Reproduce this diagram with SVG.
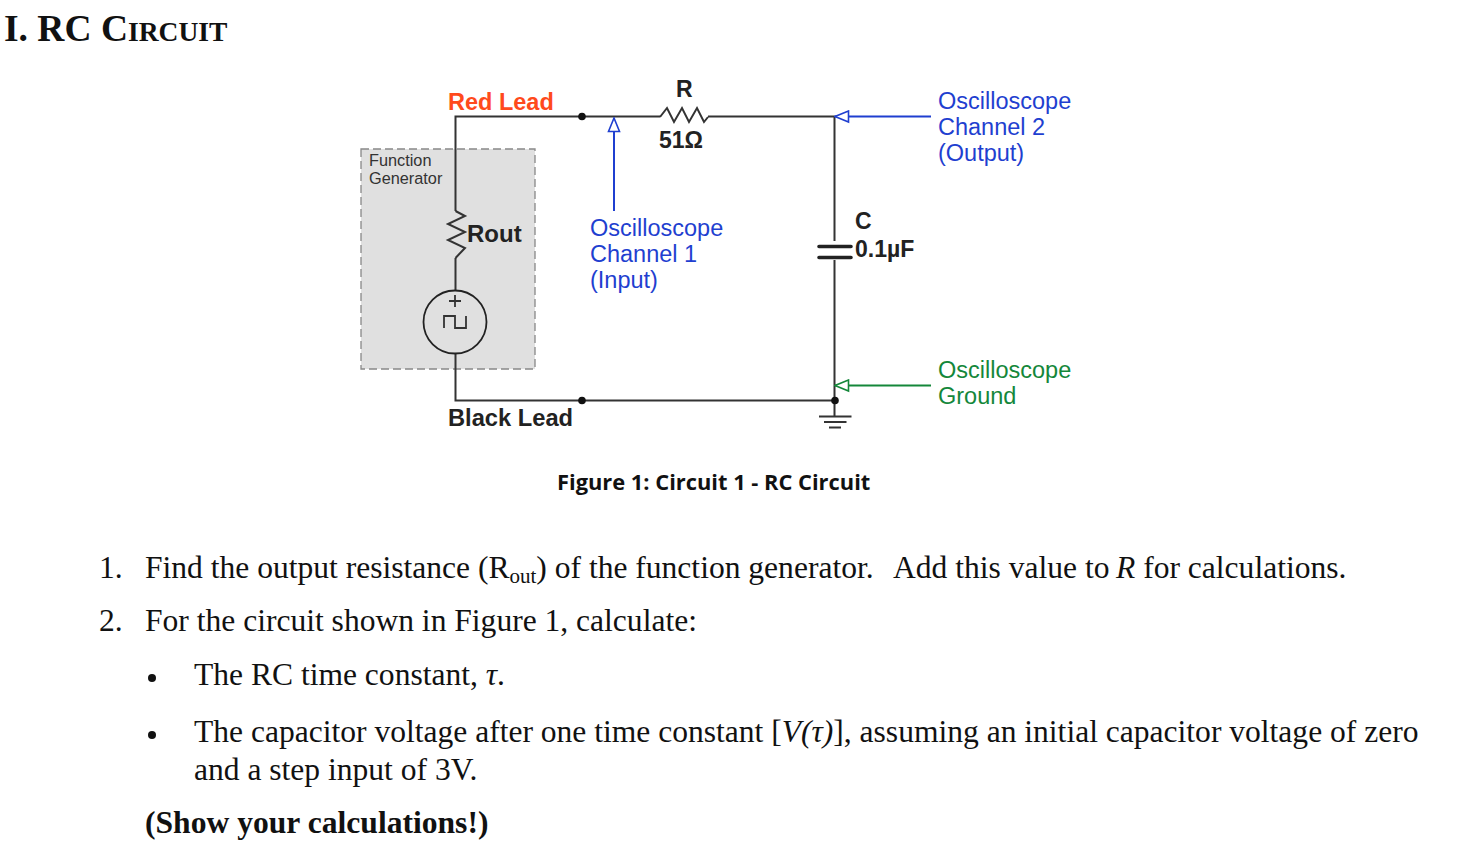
<svg xmlns="http://www.w3.org/2000/svg" width="1460" height="849" viewBox="0 0 1460 849">
<style>
.w{fill:none;stroke:#333;stroke-width:2}
.s{font-family:"Liberation Sans",Arial,sans-serif}
.b{font-weight:bold;fill:#222;font-size:23px}
.bl{fill:#1f3fd0;font-size:23.5px}
.g{fill:#14873a;font-size:23.5px}
.t{font-family:"Liberation Serif","Times New Roman",serif;font-size:31.56px;fill:#111;white-space:pre}
</style>
<defs>
<marker id="ab" markerWidth="16" markerHeight="14" refX="14.500" refY="7" orient="auto" markerUnits="userSpaceOnUse"><path d="M14.500 7L1 1.500V12.500Z" fill="#fff" stroke="#1f3fd0" stroke-width="1.6"/></marker>
<marker id="ag" markerWidth="16" markerHeight="14" refX="14.500" refY="7" orient="auto" markerUnits="userSpaceOnUse"><path d="M14.500 7L1 1.500V12.500Z" fill="#fff" stroke="#14873a" stroke-width="1.6"/></marker>
</defs>
<rect width="1460" height="849" fill="#fff"/>
<text x="4" y="41" font-family="Liberation Serif,serif" font-weight="bold" font-size="37.500" fill="#111">I. RC C<tspan font-size="27.500">IRCUIT</tspan></text>
<g id="function-generator">
<rect x="361" y="149" width="174" height="220" fill="#e0e0e0" stroke="#888" stroke-width="1.3" stroke-dasharray="8 4"/>
<text class="s" x="369" y="166" font-size="16.300" fill="#333">Function</text>
<text class="s" x="369" y="184" font-size="16.300" fill="#333">Generator</text>
</g>
<g id="connectors">
<path class="w" d="M455.500 211V116.500H660M708 116.500H834.500V241M834.500 260V417M455.500 354V400.500H834.500M455.500 258V290"/>
<path d="M614 211V118" fill="none" stroke="#1f3fd0" stroke-width="2" marker-end="url(#ab)"/>
<path d="M931 116.500H835" fill="none" stroke="#1f3fd0" stroke-width="2" marker-end="url(#ab)"/>
<path d="M931 385.500H835" fill="none" stroke="#14873a" stroke-width="2" marker-end="url(#ag)"/>
<circle cx="582" cy="116.500" r="3.800" fill="#111"/>
<circle cx="582" cy="400.500" r="3.800" fill="#111"/>
<circle cx="835" cy="400.500" r="3.800" fill="#111"/>
</g>
<g id="rout">
<path class="w" d="M455.500 211L465 216L448 224L465 232L448 240L465 248L455.500 258"/>
<text class="s b" x="467" y="242" style="font-size:24px">Rout</text>
</g>
<g id="source">
<circle cx="455" cy="322" r="31.500" fill="none" stroke="#222" stroke-width="1.800"/>
<path class="w" d="M449 301H461M455 295V307M444 328V316H455V328H466V316" style="stroke-width:1.800px"/>
</g>
<g id="resistor">
<path class="w" d="M660 117L667 108L674 122L682 108L689 122L697 108L704 122L708 117"/>
<text class="s b" x="676" y="97">R</text>
<text class="s b" x="659" y="148">51Ω</text>
</g>
<g id="capacitor">
<path d="M819 246.500H851M819 257.500H851" stroke="#222" stroke-width="3.600" stroke-linecap="round" fill="none"/>
<text class="s b" x="855" y="229">C</text>
<text class="s b" x="855" y="257">0.1µF</text>
</g>
<g id="ground"><path d="M819 416.500H851.500M824 422H846.500M829 427.500H841" stroke="#333" stroke-width="1.800" fill="none"/></g>
<g id="red-lead"><text class="s" x="448" y="110" font-size="23.500" font-weight="bold" fill="#ff4a1c">Red Lead</text></g>
<g id="black-lead"><text class="s b" x="448" y="426" style="font-size:23.700px">Black Lead</text></g>
<g id="channel-1"><text class="s bl" x="590" y="236">Oscilloscope</text><text class="s bl" x="590" y="262">Channel 1</text><text class="s bl" x="590" y="288">(Input)</text></g>
<g id="channel-2"><text class="s bl" x="938" y="109">Oscilloscope</text><text class="s bl" x="938" y="135">Channel 2</text><text class="s bl" x="938" y="161">(Output)</text></g>
<g id="scope-ground"><text class="s g" x="938" y="378">Oscilloscope</text><text class="s g" x="938" y="404">Ground</text></g>
<text x="557" y="490" font-family="Open Sans,Noto Sans,sans-serif" font-weight="bold" font-size="21.850" fill="#111">Figure 1: Circuit 1 - RC Circuit</text>
<text class="t" x="99" y="578">1.</text>
<text class="t" x="145" y="578">Find the output resistance (R<tspan font-size="21" dy="5">out</tspan><tspan dy="-5">) of the function generator.</tspan><tspan x="893">Add this value to </tspan><tspan x="1116" font-style="italic">R</tspan> for calculations.</text>
<text class="t" x="99" y="631">2.</text>
<text class="t" x="145" y="631">For the circuit shown in Figure 1, calculate:</text>
<circle cx="152" cy="678" r="4" fill="#111"/>
<text class="t" x="194" y="685">The RC time constant, <tspan font-style="italic">τ</tspan>.</text>
<circle cx="152" cy="735" r="4" fill="#111"/>
<text class="t" x="194" y="742">The capacitor voltage after one time constant [<tspan font-style="italic">V(τ)</tspan>], assuming an initial capacitor voltage of zero</text>
<text class="t" x="194" y="780">and a step input of 3V.</text>
<text class="t" x="145" y="833" font-weight="bold" style="font-size:31.600px">(Show your calculations!)</text>
</svg>
